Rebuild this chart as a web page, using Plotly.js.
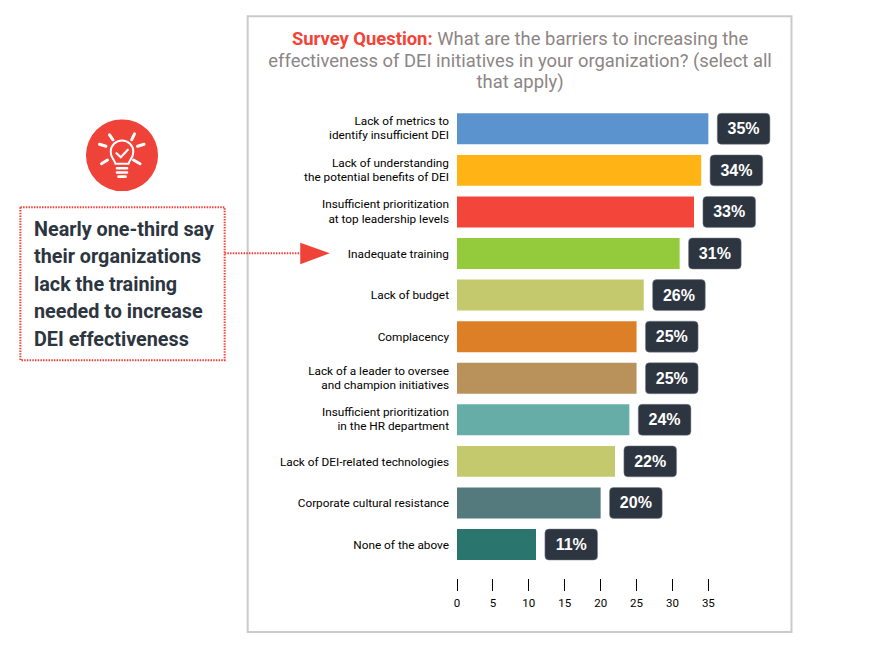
<!DOCTYPE html>
<html><head><meta charset="utf-8">
<script src="https://cdn.plot.ly/plotly-3.0.1.min.js"></script>
<style>html,body{margin:0;padding:0;background:#fff}#c{width:892px;height:645px}</style>
</head><body><div id="c"></div>
<script>
const categories = [
 "Lack of metrics to<br>identify insufficient DEI",
 "Lack of understanding<br>the potential benefits of DEI",
 "Insufficient prioritization<br>at top leadership levels",
 "Inadequate training",
 "Lack of budget",
 "Complacency",
 "Lack of a leader to oversee<br>and champion initiatives",
 "Insufficient prioritization<br>in the HR department",
 "Lack of DEI-related technologies",
 "Corporate cultural resistance",
 "None of the above"];
const values = [35,34,33,31,26,25,25,24,22,20,11];
const barColors = ["#5b93cf","#ffb314","#f4453a","#94cb3c","#c5c96e","#dc7f27","#b8915b","#66ada8","#c5c96e","#547a7d","#2a766e"];
const tickValues = [0,5,10,15,20,25,30,35];
const calloutLines = ["Nearly one-third say","their organizations","lack the training","needed to increase","DEI effectiveness"];
const titleLines = ['<b style="color:#f44336"><span style="color:#f44336">Survey Question:</span></b> What are the barriers to increasing the','effectiveness of DEI initiatives in your organization? (select all','that apply)'];

const W=892,H=645,L=457,T=107.7,B=578,PXU=251/35,XMAX=44,R=L+XMAX*PXU;
const px=x=>(x-L)/(R-L), py=y=>(B-y)/(B-T);
const RED="#ef4238",DARK="#2d3540";
const labelGap=1.24,labelWidth=7.33;

const bulb=`<svg xmlns="http://www.w3.org/2000/svg" viewBox="0 0 72 72"><circle cx="36" cy="36" r="36" fill="#ef4238"/><g fill="none" stroke="#fff" stroke-linecap="round"><path stroke-width="2" d="M29.5 44.5C28.5 40 24.5 38.5 24.7 32.5A11.3 11.3 0 1 1 47.3 32.5C47.5 38.5 43.5 40 42.5 44.5Z"/><path stroke-width="2.2" d="M30.5 34l4.3 4 7-7.5"/><path stroke-width="2.6" d="M31 49H41M31 53.2H41M32.5 57.4H39.5"/><path stroke-width="3" d="M23.5 15.500l3.500 5M48.500 14.500l-2.800 5.800M13.500 25l6.500 2M58 25l-6.500 2M15.500 44.500l6-3.700M54 44.500l-6.500-3.700"/></g></svg>`;

const annotations=[];
calloutLines.forEach((t,i)=>annotations.push({xref:"paper",yref:"paper",x:px(33),y:py(229+i*27.5),xanchor:"left",yanchor:"middle",showarrow:false,text:"<b>"+t+"</b>",font:{family:"Roboto",size:19.8,color:DARK}}));

const shapes=[
 {type:"rect",xref:"paper",yref:"paper",x0:px(248),x1:px(791),y0:py(16),y1:py(632),line:{color:"#cdc9c9",width:2},layer:"below"},
 {type:"rect",xref:"paper",yref:"paper",x0:px(21),x1:px(225),y0:py(207),y1:py(360),line:{color:RED,width:2,dash:"1.5px,1.2px"}},
 {type:"line",xref:"paper",yref:"paper",x0:px(225),x1:px(301),y0:py(253),y1:py(253),line:{color:RED,width:2,dash:"1.5px,1.2px"}},
 {type:"path",xref:"paper",yref:"paper",path:`M${px(300.500)} ${py(242.500)}L${px(330)} ${py(253)}L${px(300.500)} ${py(264)}Z`,fillcolor:RED,line:{width:0}}
];

const data=[
 {type:"bar",orientation:"h",y:categories,x:values,width:0.745,marker:{color:barColors},hoverinfo:"skip"},
 {type:"bar",orientation:"h",y:categories,x:values.map(()=>labelWidth),base:values.map(v=>v+labelGap),width:0.745,
  marker:{color:DARK,cornerradius:4,line:{color:"#7d838b",width:0.5}},
  text:values.map(v=>v+"%"),textposition:"inside",insidetextanchor:"middle",textangle:0,constraintext:"none",
  textfont:{family:"Liberation Sans",size:16,color:"#fff",weight:700},hoverinfo:"skip"}
];
const layout={
 width:W,height:H,showlegend:false,barmode:"overlay",paper_bgcolor:"#fff",plot_bgcolor:"rgba(0,0,0,0)",
 margin:{l:L,r:W-R,t:T,b:H-B,pad:0},
 title:{text:titleLines.join("<br>"),font:{family:"Roboto",size:18.4,color:"#8c8585"},xref:"paper",x:px(520),xanchor:"center",yref:"container",y:1-45/645,yanchor:"middle"},
 xaxis:{range:[0,XMAX],tickvals:tickValues,ticks:"outside",ticklen:12,tickwidth:1,tickcolor:"#000",showgrid:false,zeroline:false,showline:false,ticklabelstandoff:2,
  tickfont:{family:"Roboto",size:11.500,color:"#000"}},
 yaxis:{type:"category",categoryorder:"array",categoryarray:categories,range:[10.805,-0.5],ticks:"",showgrid:false,zeroline:false,showline:false,ticklabelstandoff:7,
  tickfont:{family:"Roboto",size:11.8,color:"#000"}},
 shapes,annotations,
 images:[{source:"data:image/svg+xml;base64,"+btoa(bulb),xref:"paper",yref:"paper",x:px(86.500),y:py(119),sizex:px(158.500)-px(86.500),sizey:py(119)-py(191),sizing:"stretch",xanchor:"left",yanchor:"top",layer:"above"}]
};
Plotly.newPlot("c",data,layout,{displayModeBar:false,staticPlot:true}).then(()=>{
  document.querySelectorAll(".gtitle tspan.line").forEach(t=>{
    const d=parseFloat(t.getAttribute("dy"));
    if(d) t.setAttribute("dy",(d/1.3*1.17)+"em");
  });
  document.querySelectorAll(".ytick text tspan.line").forEach(t=>{
    const d=parseFloat(t.getAttribute("dy"));
    if(d) t.setAttribute("dy",(d/1.3*1.2)+"em");
  });
});
</script></body></html>
